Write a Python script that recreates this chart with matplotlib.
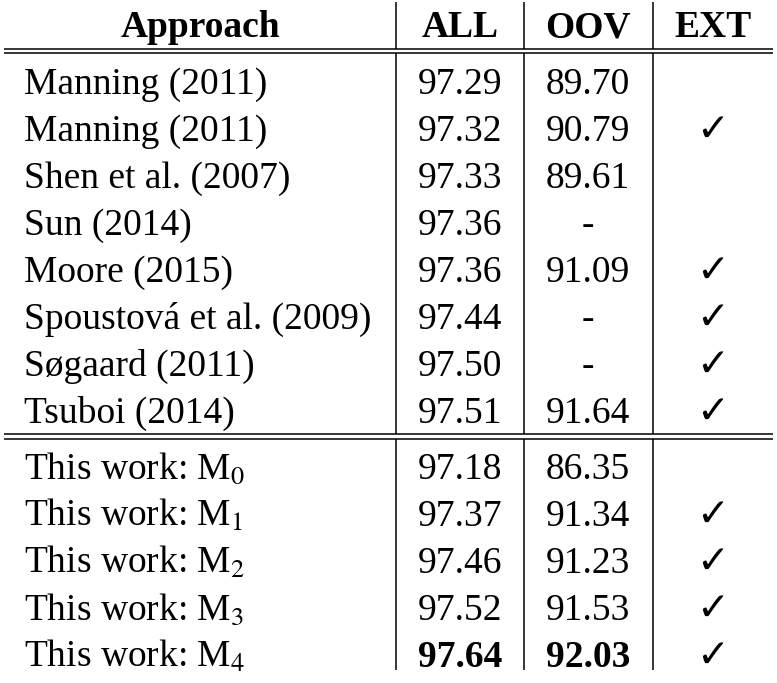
import matplotlib
matplotlib.use("Agg")
import matplotlib.pyplot as plt

plt.rcParams['font.family'] = ['Liberation Serif', 'DejaVu Sans']
plt.rcParams['mathtext.fontset'] = 'stix'

# table contents
headers = ["Approach", "ALL", "OOV", "EXT"]

prior_names = ["Manning (2011)", "Manning (2011)", "Shen et al. (2007)", "Sun (2014)",
               "Moore (2015)", "Spoustová et al. (2009)", "Søgaard (2011)", "Tsuboi (2014)"]
prior_all = [97.29, 97.32, 97.33, 97.36, 97.36, 97.44, 97.50, 97.51]
prior_oov = [89.70, 90.79, 89.61, None, 91.09, None, None, 91.64]
prior_ext = [False, True, False, False, True, True, True, True]

ours_names = ["This work: M$_0$", "This work: M$_1$", "This work: M$_2$",
              "This work: M$_3$", "This work: M$_4$"]
ours_all = [97.18, 97.37, 97.46, 97.52, 97.64]
ours_oov = [86.35, 91.34, 91.23, 91.53, 92.03]
ours_ext = [False, True, True, True, True]
best_row = 4

W, H = 777, 683
fig = plt.figure(figsize=(W / 100, H / 100), dpi=100)
ax = fig.add_axes([0, 0, 1, 1])
ax.set_xlim(0, W)
ax.set_ylim(H, 0)
ax.axis("off")

fs = 27
x_left, x_right = 4, 773
col_lines = [396, 524, 653]
name_x = 24
col_cx = [200, 460, 588, 713]
row_h = 47
base_off = 14

# rules
for y in (49, 53, 434, 439):
    ax.hlines(y, x_left, x_right, color="black", lw=1.1)
for x in col_lines:
    for y0, y1 in ((2, 49), (53, 434), (439, 670)):
        ax.vlines(x, y0, y1, color="black", lw=1.1)

# header
for i, h in enumerate(headers):
    ax.text(col_cx[i], 23 + base_off, h, ha="center", va="baseline",
            fontsize=fs, fontweight="bold")


def draw_rows(names, alls, oovs, exts, y_start, bold_idx=None):
    for i, name in enumerate(names):
        yb = y_start + i * row_h + base_off
        w = "bold" if i == bold_idx else "normal"
        ax.text(name_x, yb, name, ha="left", va="baseline", fontsize=fs)
        ax.text(col_cx[1], yb, f"{alls[i]:.2f}", ha="center", va="baseline",
                fontsize=fs, fontweight=w)
        oov = "-" if oovs[i] is None else f"{oovs[i]:.2f}"
        ax.text(col_cx[2], yb, oov, ha="center", va="baseline",
                fontsize=fs, fontweight=w)
        if exts[i]:
            ax.text(col_cx[3], yb, "\u2713", ha="center", va="baseline",
                    fontsize=fs * 1.05, family=["DejaVu Sans"])


draw_rows(prior_names, prior_all, prior_oov, prior_ext, 80)
draw_rows(ours_names, ours_all, ours_oov, ours_ext, 465, bold_idx=best_row)

fig.savefig("out.png", dpi=100)
